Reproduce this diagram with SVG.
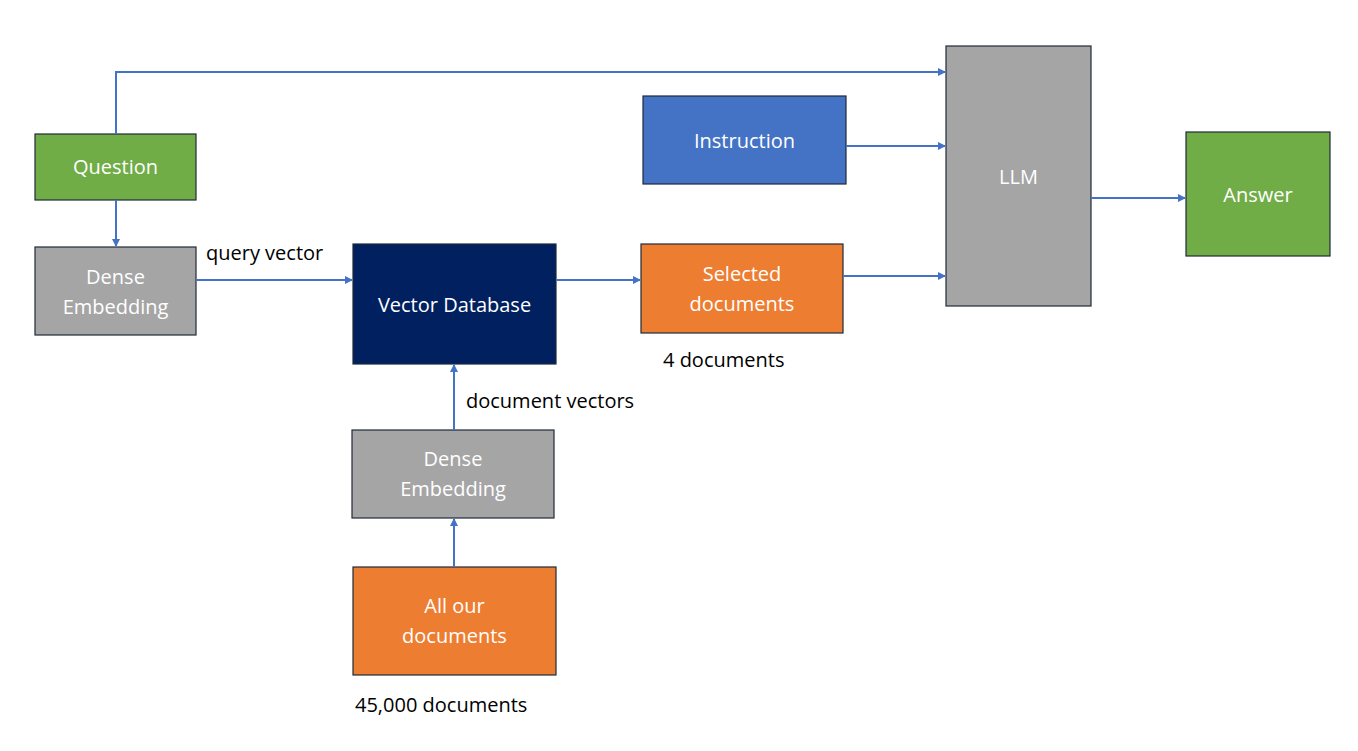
<svg xmlns="http://www.w3.org/2000/svg" width="1358" height="751" viewBox="0 0 1358 751">
<defs>
<marker id="a" markerWidth="8" markerHeight="8" refX="7" refY="4" orient="auto" markerUnits="userSpaceOnUse"><path d="M0,0 L8,4 L0,8 Z" fill="#4472C4"/></marker>
<style>
.b{stroke:#1f2a3a;stroke-width:1.2}
.t{font-family:"Open Sans","Liberation Sans",sans-serif;font-size:20px;fill:#fff;text-anchor:middle}
.l{font-family:"Open Sans","Liberation Sans",sans-serif;font-size:20px;fill:#000}
.c{stroke:#4472C4;stroke-width:2;fill:none;marker-end:url(#a)}
</style>
</defs>
<rect width="1358" height="751" fill="#fff"/>
<g id="question"><rect class="b" x="35" y="134" width="161" height="66" fill="#70AD47"/><text class="t" x="115.5" y="174">Question</text></g>
<g id="dense1"><rect class="b" x="35" y="247" width="161" height="88" fill="#A5A5A5"/><text class="t" x="115.5" y="284">Dense</text><text class="t" x="115.5" y="314">Embedding</text></g>
<g id="vdb"><rect class="b" x="353" y="244" width="203" height="120" fill="#002060"/><text class="t" x="454.5" y="312">Vector Database</text></g>
<g id="selected"><rect class="b" x="641" y="244" width="202" height="89" fill="#ED7D31"/><text class="t" x="742" y="281">Selected</text><text class="t" x="742" y="311">documents</text></g>
<g id="instruction"><rect class="b" x="643" y="96" width="203" height="88" fill="#4472C4"/><text class="t" x="744.5" y="148">Instruction</text></g>
<g id="llm"><rect class="b" x="946" y="46" width="145" height="260" fill="#A5A5A5"/><text class="t" x="1018.5" y="184">LLM</text></g>
<g id="answer"><rect class="b" x="1186" y="132" width="144" height="124" fill="#70AD47"/><text class="t" x="1258" y="202">Answer</text></g>
<g id="dense2"><rect class="b" x="352" y="430" width="202" height="88" fill="#A5A5A5"/><text class="t" x="453" y="466">Dense</text><text class="t" x="453" y="496">Embedding</text></g>
<g id="alldocs"><rect class="b" x="353" y="567" width="203" height="108" fill="#ED7D31"/><text class="t" x="454.5" y="613">All our</text><text class="t" x="454.5" y="643">documents</text></g>
<g id="connectors">
<path class="c" d="M116,134 V72 H945"/>
<path class="c" d="M116,200 V246"/>
<path class="c" d="M196,280 H352"/>
<path class="c" d="M556,280 H640"/>
<path class="c" d="M843,276 H945"/>
<path class="c" d="M846,146 H945"/>
<path class="c" d="M1091,198 H1185"/>
<path class="c" d="M454,430 V365"/>
<path class="c" d="M454,567 V519"/>
</g>
<g id="labels">
<text class="l" x="206" y="260">query vector</text>
<text class="l" x="466" y="408">document vectors</text>
<text class="l" x="663" y="367">4 documents</text>
<text class="l" x="355" y="712">45,000 documents</text>
</g>
</svg>
